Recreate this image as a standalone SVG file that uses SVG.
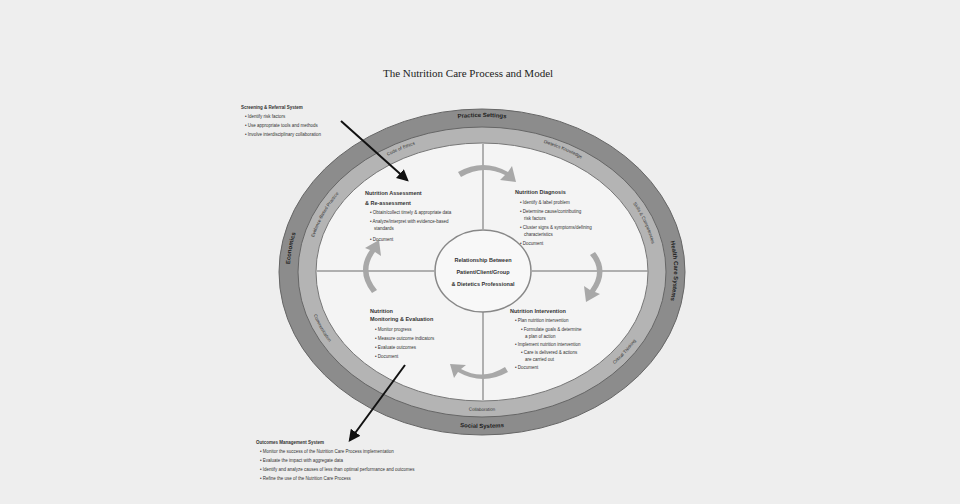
<svg xmlns="http://www.w3.org/2000/svg" width="960" height="504" viewBox="0 0 960 504">
<style>
.t{font-family:"Liberation Sans",Arial,sans-serif;fill:#333}
.h{font-size:5.5px;font-weight:bold}
.s{font-size:4.5px}
.r{font-size:6px;font-weight:bold;fill:#222}
.ri{font-size:4.5px;fill:#333}
</style>
<defs>
<marker id="ah" viewBox="0 0 10 10" refX="8" refY="5" markerWidth="6" markerHeight="6" orient="auto"><path d="M0,0L10,5L0,10z" fill="#111"/></marker>
<path id="op" d="M290,270 A192,153 0 0 1 674,270"/>
<path id="opr" d="M482,118 A192,153 0 0 1 482,424"/>
<path id="opb" d="M286,272 A196,156 0 0 0 678,272"/>
<path id="ip" d="M309,270 A173,136 0 0 1 655,270"/>
<path id="ipb" d="M305,272 A177,139 0 0 0 659,272"/>
</defs>
<rect width="960" height="504" fill="#eeeeee"/>
<text x="468" y="77" text-anchor="middle" style="font-family:'Liberation Serif',serif;font-size:11px;fill:#222">The Nutrition Care Process and Model</text>
<g id="rings">
<ellipse cx="482" cy="272" rx="203" ry="163" fill="#8c8c8c" stroke="#666"/>
<ellipse cx="482" cy="272" rx="184" ry="145" fill="#b4b4b4" stroke="#666"/>
<ellipse cx="482" cy="272" rx="166" ry="129" fill="#f4f4f4" stroke="#777"/>
<text class="t r"><textPath href="#op" startOffset="50%" text-anchor="middle">Practice Settings</textPath></text>
<text class="t r"><textPath href="#op" startOffset="4%" text-anchor="middle">Economics</textPath></text>
<text class="t r"><textPath href="#opr" startOffset="50%" text-anchor="middle">Health Care Systems</textPath></text>
<text class="t r"><textPath href="#opb" startOffset="50%" text-anchor="middle">Social Systems</textPath></text>
<text class="t ri"><textPath href="#ip" startOffset="33%" text-anchor="middle">Code of Ethics</textPath></text>
<text class="t ri"><textPath href="#ip" startOffset="67%" text-anchor="middle">Dietetics Knowledge</textPath></text>
<text class="t ri"><textPath href="#ip" startOffset="12%" text-anchor="middle">Evidence-Based Practice</textPath></text>
<text class="t ri"><textPath href="#ip" startOffset="90%" text-anchor="middle">Skills &amp; Competencies</textPath></text>
<text class="t ri"><textPath href="#ipb" startOffset="12%" text-anchor="middle">Communication</textPath></text>
<text class="t ri"><textPath href="#ipb" startOffset="50%" text-anchor="middle">Collaboration</textPath></text>
<text class="t ri"><textPath href="#ipb" startOffset="82%" text-anchor="middle">Critical Thinking</textPath></text>
</g>
<g id="cross" stroke="#999" stroke-width="1.5">
<line x1="483" y1="144" x2="483" y2="229"/><line x1="483" y1="312" x2="483" y2="400"/>
<line x1="317" y1="271" x2="434" y2="271"/><line x1="532" y1="271" x2="648" y2="271"/>
</g>
<g id="arrows" fill="#a8a8a8">
<path d="M458,172 Q483,158 508,172 L512,166 L516,182 L500,180 L505,175 Q483,164 461,177z"/>
<path d="M590,255 Q604,271 590,290 L584,286 L586,302 L600,294 L595,292 Q610,271 595,252z"/>
<path d="M508,372 Q483,386 458,372 L454,378 L450,364 L466,365 L461,369 Q483,381 505,367z"/>
<path d="M377,290 Q361,271 375,252 L381,256 L379,240 L365,248 L370,250 Q355,271 372,293z"/>
</g>
<g id="center">
<ellipse cx="483" cy="271" rx="48" ry="41" fill="#f8f8f8" stroke="#888" stroke-width="1.5"/>
<text class="t h" text-anchor="middle" x="483" y="262">Relationship Between</text>
<text class="t h" text-anchor="middle" x="483" y="274">Patient/Client/Group</text>
<text class="t h" text-anchor="middle" x="483" y="286">&amp; Dietetics Professional</text>
</g>
<g id="assessment" class="t">
<text class="h" x="365" y="195">Nutrition Assessment</text>
<text class="h" x="365" y="205">&amp; Re-assessment</text>
<text class="s" x="370" y="214">• Obtain/collect timely &amp; appropriate data</text>
<text class="s" x="370" y="223">• Analyze/interpret with evidence-based</text>
<text class="s" x="374" y="230">standards</text>
<text class="s" x="370" y="241">• Document</text>
</g>
<g id="diagnosis" class="t">
<text class="h" x="515" y="194">Nutrition Diagnosis</text>
<text class="s" x="520" y="204">• Identify &amp; label problem</text>
<text class="s" x="520" y="213">• Determine cause/contributing</text>
<text class="s" x="524" y="220">risk factors</text>
<text class="s" x="520" y="229">• Cluster signs &amp; symptoms/defining</text>
<text class="s" x="524" y="236">characteristics</text>
<text class="s" x="520" y="245">• Document</text>
</g>
<g id="monitoring" class="t">
<text class="h" x="370" y="313">Nutrition</text>
<text class="h" x="370" y="321">Monitoring &amp; Evaluation</text>
<text class="s" x="375" y="331">• Monitor progress</text>
<text class="s" x="375" y="340">• Measure outcome indicators</text>
<text class="s" x="375" y="349">• Evaluate outcomes</text>
<text class="s" x="375" y="358">• Document</text>
</g>
<g id="intervention" class="t">
<text class="h" x="510" y="313">Nutrition Intervention</text>
<text class="s" x="515" y="322">• Plan nutrition intervention</text>
<text class="s" x="521" y="331">• Formulate goals &amp; determine</text>
<text class="s" x="525" y="338">a plan of action</text>
<text class="s" x="515" y="346">• Implement nutrition intervention</text>
<text class="s" x="521" y="354">• Care is delivered &amp; actions</text>
<text class="s" x="525" y="361">are carried out</text>
<text class="s" x="515" y="369">• Document</text>
</g>
<g id="screening" class="t">
<text class="s" x="241" y="109" style="font-weight:bold">Screening &amp; Referral System</text>
<text class="s" x="245" y="118">• Identify risk factors</text>
<text class="s" x="245" y="127">• Use appropriate tools and methods</text>
<text class="s" x="245" y="136">• Involve interdisciplinary collaboration</text>
</g>
<g id="outcomes" class="t">
<text class="s" x="256" y="444" style="font-weight:bold">Outcomes Management System</text>
<text class="s" x="260" y="453">• Monitor the success of the Nutrition Care Process implementation</text>
<text class="s" x="260" y="462">• Evaluate the impact with aggregate data</text>
<text class="s" x="260" y="471">• Identify and analyze causes of less than optimal performance and outcomes</text>
<text class="s" x="260" y="480">• Refine the use of the Nutrition Care Process</text>
</g>
<g id="connectors" stroke="#111" stroke-width="2" fill="none" marker-end="url(#ah)">
<line x1="341" y1="121" x2="407" y2="180"/>
<line x1="405" y1="365" x2="350" y2="440"/>
</g>
</svg>
